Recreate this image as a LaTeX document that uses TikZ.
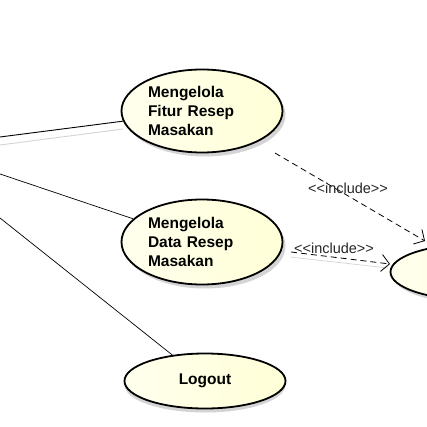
\documentclass[tikz,border=0pt]{standalone}
\usepackage{fontspec}
\setmainfont{Liberation Sans}
\usetikzlibrary{shapes.geometric,arrows.meta}
\definecolor{ucfill}{RGB}{255,255,215}
\definecolor{ucfilllight}{RGB}{255,255,238}
\definecolor{shadowgray}{RGB}{212,212,212}
\begin{document}
\begin{tikzpicture}[x=1pt,y=-1pt,
  usecase/.style={ellipse,draw=black,line width=1.8pt,inner sep=0pt,
    left color=ucfilllight,right color=ucfill,
    minimum width=161pt,font=\fontsize{15.5}{19}\selectfont\bfseries},
  ucshadow/.style={ellipse,fill=shadowgray,draw=none,inner sep=0pt,minimum width=161pt},
  assoc/.style={draw=black,line width=0.9pt},
  lineshadow/.style={draw=shadowgray,line width=0.9pt},
  incl/.style={draw=black,line width=0.8pt,dash pattern=on 6pt off 4pt,
    -{Straight Barb[length=8pt,width=17pt,line width=0.8pt]}},
  incllabel/.style={font=\fontsize{14.5}{16}\selectfont,text=black!85,inner sep=1pt}
]
\useasboundingbox (0,0) rectangle (427,427);
\clip (0,0) rectangle (427,427);
\fill[white] (0,0) rectangle (427,427);

% shadows
\node[ucshadow,minimum height=83pt] (s1) at (205,115) {};
\node[ucshadow,minimum height=85pt] (s2) at (205,246) {};
\node[ucshadow,minimum height=55pt] (s3) at (205,385) {};
\node[ucshadow,minimum height=55pt] (s4) at (474,276) {};

% actor-side free ends
\coordinate (a1) at (0,137);
\coordinate (a1s) at (0,145);
\coordinate (a2) at (0,174);
\coordinate (a3) at (0,218);

% line shadows
\coordinate (e1s) at (123,129);
\draw[lineshadow] (a1s) -- (e1s);

% use cases
\node[usecase,minimum height=83pt,text width=108pt,align=left] (e1) at (202,111)
  {Mengelola\\Fitur Resep\\Masakan};
\node[usecase,minimum height=85pt,text width=108pt,align=left] (e2) at (202,242)
  {Mengelola\\Data Resep\\Masakan};
\node[usecase,minimum height=55pt] (e3) at (205,381) {Logout};
\node[usecase,minimum height=55pt] (e4) at (471,272) {};

% associations
\draw[assoc] (a1) -- (e1);
\draw[assoc,line width=0.7pt] (a2) -- (e2);
\draw[assoc,line width=0.7pt] (a3) -- (e3);

% include arrows
\coordinate (i1s) at (275,153);
\coordinate (i1e) at (425,241);
\coordinate (i2s) at (291,252);
\coordinate (i2e) at (390,264);
\coordinate (i2ss) at (290,257);
\coordinate (i2se) at (388,268);
\draw[lineshadow,line width=0.7pt] (i2ss) -- (i2se);
\draw[incl] (i1s) -- (i1e);
\draw[incl] (i2s) -- (i2e);
\node[incllabel] (l1) at (348,188) {<\kern0pt<include>\kern0pt>};
\node[incllabel] (l2) at (334,248) {<\kern0pt<include>\kern0pt>};
\end{tikzpicture}
\end{document}
